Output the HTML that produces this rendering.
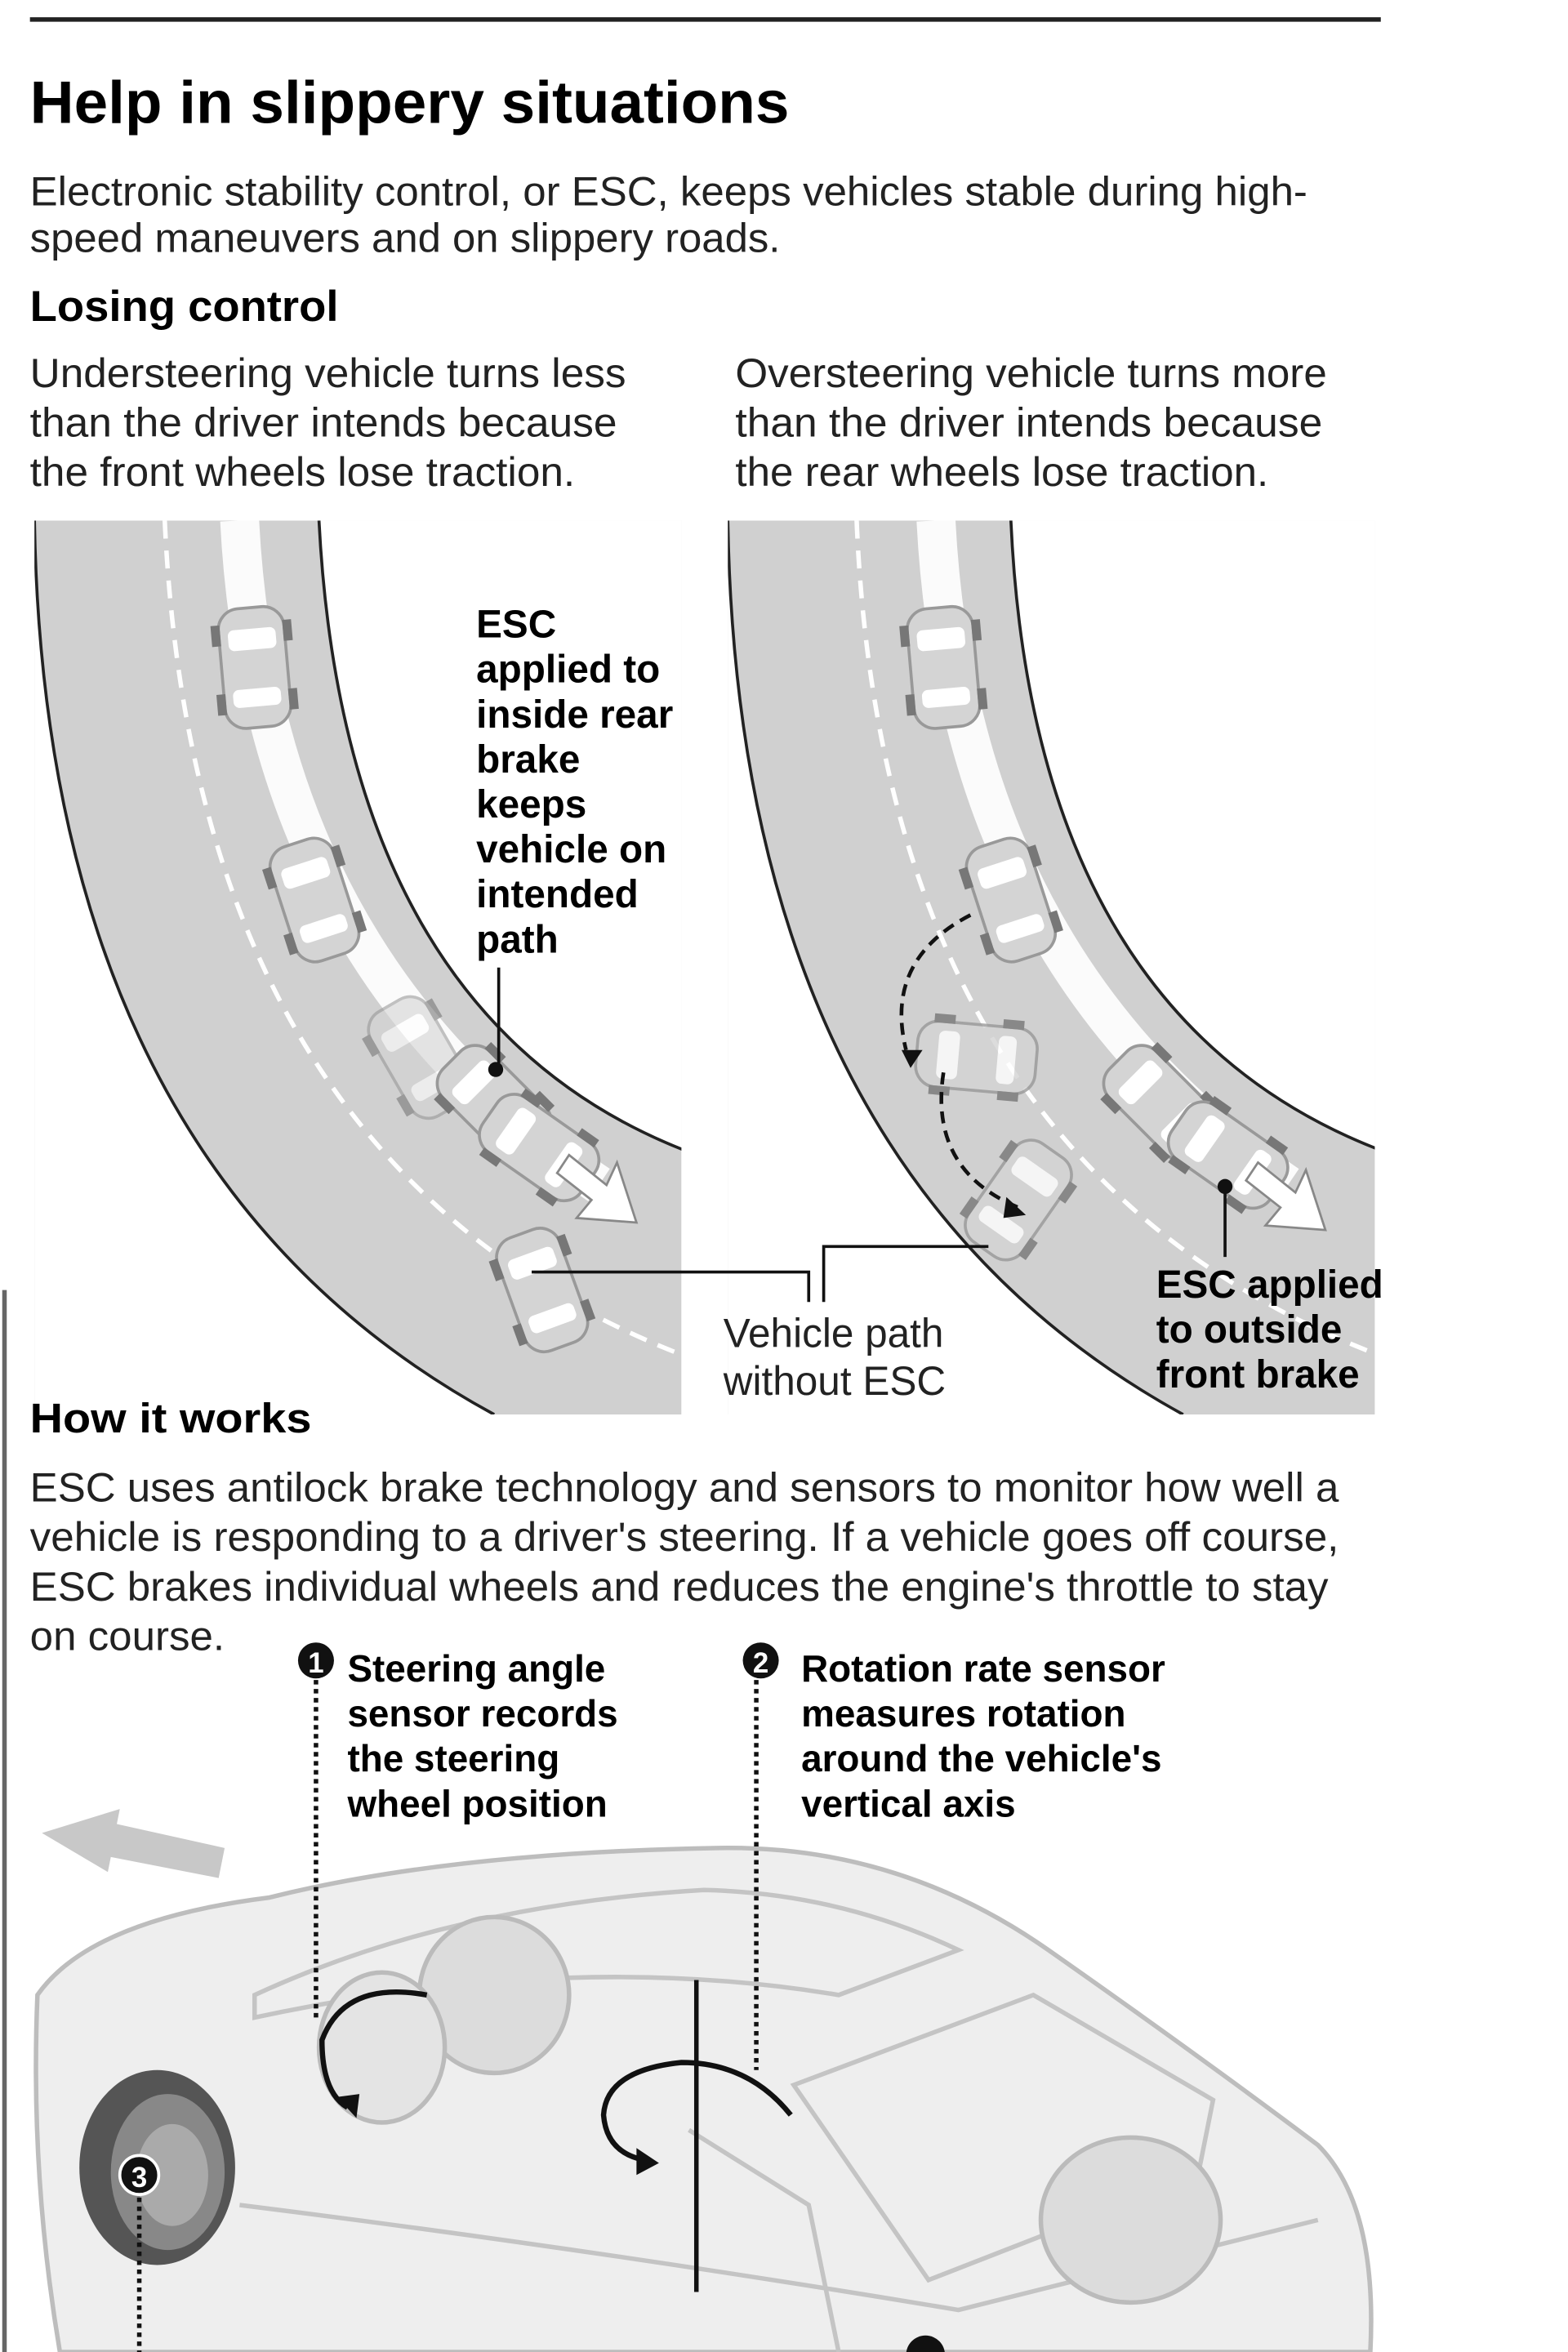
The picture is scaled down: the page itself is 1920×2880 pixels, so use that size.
<!DOCTYPE html>
<html><head><meta charset="utf-8"><style>
html,body{margin:0;padding:0;background:#fff;}
svg{display:block;}
text{font-family:"Liberation Sans Narrow","Liberation Sans",sans-serif;}
</style></head><body>
<svg width="1920" height="2880" viewBox="0 0 1047 1568" preserveAspectRatio="none" xmlns="http://www.w3.org/2000/svg">
<defs>
<clipPath id="lp"><rect x="23" y="347" width="432" height="596"/></clipPath>
<clipPath id="rp"><rect x="486" y="347" width="432" height="596"/></clipPath>
<g id="car">
<rect x="-22" y="-40" width="44" height="80" rx="14" fill="#d4d4d4" stroke="#999" stroke-width="2"/>
<rect x="-16" y="-26" width="32" height="14" rx="4" fill="#fff"/>
<rect x="-16" y="14" width="32" height="12" rx="4" fill="#fff"/>
<rect x="-27" y="-30" width="6" height="14" fill="#777"/><rect x="21" y="-30" width="6" height="14" fill="#777"/>
<rect x="-27" y="16" width="6" height="14" fill="#777"/><rect x="21" y="16" width="6" height="14" fill="#777"/>
</g>
</defs>
<rect width="1047" height="1568" fill="#fff"/>
<line x1="20" y1="13" x2="922" y2="13" stroke="#222" stroke-width="3"/>
<line x1="3" y1="860" x2="3" y2="1568" stroke="#666" stroke-width="3"/>

<text x="20" y="82" font-size="40" font-weight="bold" textLength="507" lengthAdjust="spacingAndGlyphs">Help in slippery situations</text>
<g font-size="27" fill="#222">
<text x="20" y="137" textLength="853" lengthAdjust="spacingAndGlyphs">Electronic stability control, or ESC, keeps vehicles stable during high-</text>
<text x="20" y="168" textLength="501" lengthAdjust="spacingAndGlyphs">speed maneuvers and on slippery roads.</text>
</g>
<text x="20" y="214" font-size="29" font-weight="bold" textLength="206" lengthAdjust="spacingAndGlyphs">Losing control</text>
<g font-size="27" fill="#222">
<text x="20" y="258" textLength="398" lengthAdjust="spacingAndGlyphs">Understeering vehicle turns less</text>
<text x="20" y="291" textLength="392" lengthAdjust="spacingAndGlyphs">than the driver intends because</text>
<text x="20" y="324" textLength="364" lengthAdjust="spacingAndGlyphs">the front wheels lose traction.</text>
<text x="491" y="258" textLength="395" lengthAdjust="spacingAndGlyphs">Oversteering vehicle turns more</text>
<text x="491" y="291" textLength="392" lengthAdjust="spacingAndGlyphs">than the driver intends because</text>
<text x="491" y="324" textLength="356" lengthAdjust="spacingAndGlyphs">the rear wheels lose traction.</text>
</g>

<!-- left panel -->
<g clip-path="url(#lp)">
<rect x="23" y="347" width="432" height="596" fill="#d0d0d0"/>
<path d="M213 347 Q230 680 460 768 L460 347 Z" fill="#fff"/>
<path d="M23 347 Q30 780 330 943 L23 943 Z" fill="#fff"/>
<path d="M23 347 Q30 780 330 943" fill="none" stroke="#222" stroke-width="2"/>
<path d="M213 347 Q230 680 460 768" fill="none" stroke="#222" stroke-width="2"/>
<path d="M110 347 Q130 780 460 905" fill="none" stroke="#fff" stroke-width="3" stroke-dasharray="12 8"/>
<path d="M160 347 Q175 640 400 790" fill="none" stroke="#fff" stroke-width="26" opacity="0.9"/>
<use href="#car" transform="translate(170,445) rotate(-5)"/>
<use href="#car" transform="translate(210,600) rotate(-18)"/>
<use href="#car" transform="translate(280,705) rotate(-30)" opacity="0.6"/>
<use href="#car" transform="translate(330,735) rotate(-45)"/>
<use href="#car" transform="translate(360,765) rotate(-55)"/>
<use href="#car" transform="translate(362,860) rotate(-20)"/>
<path d="M380 770 L405 790 L412 775 L425 815 L385 812 L395 800 L372 782 Z" fill="#fff" stroke="#888" stroke-width="1.5"/>
</g>
<g font-size="26" font-weight="bold">
<text x="318" y="425">ESC</text><text x="318" y="455">applied to</text><text x="318" y="485">inside rear</text>
<text x="318" y="515">brake</text><text x="318" y="545">keeps</text><text x="318" y="575">vehicle on</text>
<text x="318" y="605">intended</text><text x="318" y="635">path</text>
</g>
<line x1="333" y1="645" x2="333" y2="712" stroke="#111" stroke-width="2"/>
<circle cx="331" cy="713" r="5" fill="#111"/>

<!-- right panel -->
<g clip-path="url(#rp)">
<rect x="486" y="347" width="432" height="596" fill="#d0d0d0"/>
<path d="M675 347 Q690 680 925 768 L925 347 Z" fill="#fff"/>
<path d="M486 347 Q493 780 790 943 L486 943 Z" fill="#fff"/>
<path d="M486 347 Q493 780 790 943" fill="none" stroke="#222" stroke-width="2"/>
<path d="M675 347 Q690 680 925 768" fill="none" stroke="#222" stroke-width="2"/>
<path d="M572 347 Q590 780 925 905" fill="none" stroke="#fff" stroke-width="3" stroke-dasharray="12 8"/>
<path d="M625 347 Q640 640 860 790" fill="none" stroke="#fff" stroke-width="26" opacity="0.9"/>
<use href="#car" transform="translate(630,445) rotate(-5)"/>
<use href="#car" transform="translate(675,600) rotate(-18)"/>
<use href="#car" transform="translate(775,735) rotate(-45)"/>
<use href="#car" transform="translate(820,770) rotate(-55)"/>
<use href="#car" transform="translate(652,705) rotate(-85)" opacity="0.8"/>
<use href="#car" transform="translate(680,800) rotate(35)" opacity="0.8"/>
<path d="M840 775 L865 795 L872 780 L885 820 L845 817 L855 805 L832 787 Z" fill="#fff" stroke="#888" stroke-width="1.5"/>
<path d="M648 610 Q590 640 605 700" fill="none" stroke="#111" stroke-width="2.5" stroke-dasharray="8 5"/>
<path d="M630 715 Q620 780 680 805" fill="none" stroke="#111" stroke-width="2.5" stroke-dasharray="8 5"/>
<path d="M602 700 L616 700 L608 712 Z" fill="#111"/>
<path d="M672 798 L685 810 L670 812 Z" fill="#111"/>
</g>
<line x1="818" y1="790" x2="818" y2="838" stroke="#111" stroke-width="2"/>
<circle cx="818" cy="791" r="5" fill="#111"/>
<g font-size="26" font-weight="bold">
<text x="772" y="865">ESC applied</text><text x="772" y="895">to outside</text><text x="772" y="925">front brake</text>
</g>

<path d="M355 848 L540 848 L540 868" fill="none" stroke="#111" stroke-width="2"/>
<path d="M550 868 L550 831 L660 831" fill="none" stroke="#111" stroke-width="2"/>
<g font-size="27" fill="#222">
<text x="483" y="898">Vehicle path</text><text x="483" y="930">without ESC</text>
</g>

<text x="20" y="955" font-size="28" font-weight="bold" textLength="188" lengthAdjust="spacingAndGlyphs">How it works</text>
<g font-size="27" fill="#222">
<text x="20" y="1001" textLength="874" lengthAdjust="spacingAndGlyphs">ESC uses antilock brake technology and sensors to monitor how well a</text>
<text x="20" y="1034" textLength="874" lengthAdjust="spacingAndGlyphs">vehicle is responding to a driver's steering. If a vehicle goes off course,</text>
<text x="20" y="1067" textLength="867" lengthAdjust="spacingAndGlyphs">ESC brakes individual wheels and reduces the engine's throttle to stay</text>
<text x="20" y="1100" textLength="130" lengthAdjust="spacingAndGlyphs">on course.</text>
</g>

<!-- car -->
<path d="M28 1222 L80 1206 L78 1216 L150 1232 L146 1252 L74 1238 L72 1248 Z" fill="#c8c8c8"/>
<path d="M25 1330 Q60 1280 180 1265 Q300 1235 480 1232 Q600 1230 700 1300 Q800 1370 880 1430 Q920 1470 915 1568 L40 1568 Q20 1450 25 1330 Z" fill="#eeeeee" stroke="#bdbdbd" stroke-width="3"/>
<path d="M170 1330 Q300 1270 470 1260 Q560 1262 640 1300 L560 1330 Q380 1300 170 1345 Z" fill="none" stroke="#c4c4c4" stroke-width="3"/>
<path d="M530 1390 L690 1330 L810 1400 L800 1450 L620 1520 Z" fill="none" stroke="#c4c4c4" stroke-width="3"/>
<path d="M460 1420 L540 1470 L560 1568" fill="none" stroke="#c4c4c4" stroke-width="3"/>
<path d="M160 1470 Q400 1500 640 1540 L880 1480" fill="none" stroke="#c4c4c4" stroke-width="3"/>
<ellipse cx="330" cy="1330" rx="50" ry="52" fill="#dcdcdc" stroke="#bbb" stroke-width="3"/>
<ellipse cx="255" cy="1365" rx="42" ry="50" fill="#e4e4e4" stroke="#bbb" stroke-width="3"/>
<ellipse cx="755" cy="1480" rx="60" ry="55" fill="#dcdcdc" stroke="#bbb" stroke-width="3"/>
<ellipse cx="105" cy="1445" rx="52" ry="65" fill="#555"/>
<ellipse cx="112" cy="1448" rx="38" ry="52" fill="#888"/>
<ellipse cx="115" cy="1450" rx="24" ry="34" fill="#aaa"/>
<path d="M285 1330 Q230 1320 215 1360 Q215 1395 232 1405" fill="none" stroke="#111" stroke-width="3.5"/>
<path d="M225 1398 L238 1412 L240 1396 Z" fill="#111"/>
<line x1="465" y1="1320" x2="465" y2="1528" stroke="#111" stroke-width="3"/>
<path d="M528 1410 Q500 1375 455 1375 Q405 1380 403 1410 Q405 1435 430 1440" fill="none" stroke="#111" stroke-width="3.5"/>
<path d="M425 1432 L440 1442 L425 1450 Z" fill="#111"/>

<!-- callouts -->
<g font-size="25" font-weight="bold">
<circle cx="211" cy="1107" r="12" fill="#111"/><text x="211" y="1115" fill="#fff" font-size="19" text-anchor="middle">1</text>
<text x="232" y="1121">Steering angle</text><text x="232" y="1151">sensor records</text>
<text x="232" y="1181">the steering</text><text x="232" y="1211">wheel position</text>
<circle cx="508" cy="1107" r="12" fill="#111"/><text x="508" y="1115" fill="#fff" font-size="19" text-anchor="middle">2</text>
<text x="535" y="1121">Rotation rate sensor</text><text x="535" y="1151">measures rotation</text>
<text x="535" y="1181">around the vehicle's</text><text x="535" y="1211">vertical axis</text>
<circle cx="93" cy="1450" r="13" fill="#111" stroke="#fff" stroke-width="2"/><text x="93" y="1458" fill="#fff" font-size="19" text-anchor="middle">3</text>
<circle cx="618" cy="1570" r="13" fill="#111"/>
</g>
<line x1="211" y1="1120" x2="211" y2="1345" stroke="#111" stroke-width="3" stroke-dasharray="3 3"/>
<line x1="505" y1="1120" x2="505" y2="1380" stroke="#111" stroke-width="3" stroke-dasharray="3 3"/>
<line x1="93" y1="1465" x2="93" y2="1568" stroke="#111" stroke-width="3" stroke-dasharray="3 3"/>
</svg>
</body></html>
